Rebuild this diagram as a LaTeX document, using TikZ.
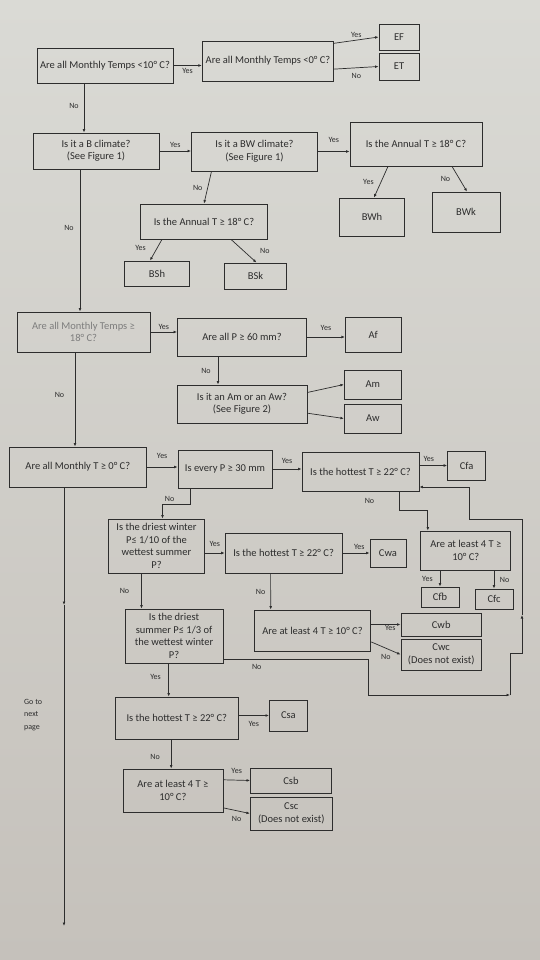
\documentclass[tikz,border=0pt]{standalone}
\usepackage{fontspec}
\setmainfont{Carlito}
\usetikzlibrary{arrows.meta}

\definecolor{paper}{RGB}{218,218,213}
\definecolor{paperdark}{RGB}{197,193,187}
\definecolor{ink}{RGB}{45,45,45}
\definecolor{faint}{RGB}{125,125,125}

\tikzset{
  box/.style = {draw=ink, line width=0.8pt, text=ink, inner sep=1pt, align=center,
                font=\fontsize{10.5}{12.5}\selectfont},
  sz/.style 2 args = {minimum width=#1pt, minimum height=#2pt},
  edge/.style = {draw=ink, line width=0.7pt, -{Latex[length=3.5pt,width=2.8pt]}},
  lbl/.style = {text=ink, inner sep=0pt, font=\fontsize{8}{9.6}\selectfont}
}

\begin{document}
\begin{tikzpicture}[x = 1pt, y = -1pt]
    \shade[top color=paper, bottom color=paperdark] (0,0) rectangle (540,960);
    \useasboundingbox (0,0) rectangle (540,960);

    % E climates
    \node[box, sz={136}{35}]   (cold)  at (105,65.5) {Are all Monthly Temps <10° C?};
    \node[box, sz={131.5}{40}] (frost) at (268,61)   {Are all Monthly Temps <0° C?};
    \node[box, sz={40}{26}]    (EF)    at (399,37)   {EF};
    \node[box, sz={40}{27}]    (ET)    at (399,66.5) {ET};

    % B climates
    \node[box, sz={126}{36}]   (dry)    at (96,151)    {Is it a B climate?\\(See Figure 1)};
    \node[box, sz={126}{39}]   (desert) at (254.5,151.5) {Is it a BW climate?\\(See Figure 1)};
    \node[box, sz={132}{44}]   (hotBW)  at (416,144)   {Is the Annual T ≥ 18° C?};
    \node[box, sz={65.5}{38}]  (BWh)    at (372,217)   {BWh};
    \node[box, sz={68}{40}]    (BWk)    at (466,212)   {BWk};
    \node[box, sz={127.5}{35}] (hotBS)  at (204,221.5) {Is the Annual T ≥ 18° C?};
    \node[box, sz={64.7}{25}]  (BSh)    at (157,273.5) {BSh};
    \node[box, sz={62}{26}]    (BSk)    at (255.5,276) {BSk};

    % A climates
    \node[box, sz={133}{40}, text=faint] (tropic) at (83.5,332) {Are all Monthly Temps ≥\\18° C?};
    \node[box, sz={129}{38}] (wet)     at (242,337)     {Are all P ≥ 60 mm?};
    \node[box, sz={56}{35}]  (Af)      at (373.3,334.5) {Af};
    \node[box, sz={130}{38}] (monsoon) at (242,404)     {Is it an Am or an Aw?\\(See Figure 2)};
    \node[box, sz={57}{29}]  (Am)      at (372.8,384.5) {Am};
    \node[box, sz={57}{29}]  (Aw)      at (372.8,418.5) {Aw};

    % C climates
    \node[box, sz={137}{40}]   (mild)   at (77.8,467)    {Are all Monthly T ≥ 0° C?};
    \node[box, sz={94}{38}]    (moist)  at (225,469)     {Is every P ≥ 30 mm};
    \node[box, sz={117}{39}]   (hotF)   at (360.5,471.5) {Is the hottest T ≥ 22° C?};
    \node[box, sz={38}{29}]    (Cfa)    at (466.6,465.5) {Cfa};
    \node[box, sz={90}{39}]    (warmF)  at (465.8,550.5) {Are at least 4 T ≥\\10° C?};
    \node[box, sz={38}{20}]    (Cfb)    at (440,597)     {Cfb};
    \node[box, sz={38}{20}]    (Cfc)    at (494,599)     {Cfc};
    \node[box, sz={96}{54}]    (drywin) at (156.5,546)   {Is the driest winter\\P≤ 1/10 of the\\wettest summer\\P?};
    \node[box, sz={117}{40}]   (hotW)   at (283.6,553)   {Is the hottest T ≥ 22° C?};
    \node[box, sz={36}{28}]    (Cwa)    at (388,553)     {Cwa};
    \node[box, sz={98}{54}]    (drysum) at (174,636)     {Is the driest\\summer P≤ 1/3 of\\the wettest winter\\P?};
    \node[box, sz={116.7}{41}] (warmW)  at (312.5,630.5) {Are at least 4 T ≥ 10° C?};
    \node[box, sz={80.6}{23}]  (Cwb)    at (441.2,624.5) {Cwb};
    \node[box, sz={80.6}{31}]  (Cwc)    at (441.2,654.5) {Cwc\\(Does not exist)};
    \node[box, sz={123}{42}]   (hotS)   at (176.8,718)   {Is the hottest T ≥ 22° C?};
    \node[box, sz={38}{31}]    (Csa)    at (288.4,715.5) {Csa};
    \node[box, sz={100}{43}]   (warmS)  at (172.9,790.5) {Are at least 4 T ≥\\10° C?};
    \node[box, sz={81}{25}]    (Csb)    at (291,780.5)   {Csb};
    \node[box, sz={82}{33}]    (Csc)    at (291.3,813.5) {Csc\\(Does not exist)};

    \node[lbl, align=left, anchor=west, font=\fontsize{8}{12.8}\selectfont] (next) at (24,715) {Go to\\next\\page};

    \coordinate (loopA) at (510,695);
    \coordinate (loopB) at (522,615);
    \coordinate (turn)  at (64,605);
    \coordinate (tail)  at (64,926);

    \draw[edge] (cold.east) -- node[lbl, below=3pt] {Yes} (cold.east -| frost.west);
    \draw[edge] (frost.15) -- node[lbl, above=2.5pt] {Yes} (EF.west);
    \draw[edge] (frost.-7) -- node[lbl, below=5.5pt] {No} (ET.west);
    \draw[edge] ([xshift=-21pt]cold.south) -- node[lbl, left=5pt, pos=0.46] {No} ([xshift=-12pt]dry.north);

    \draw[edge] (dry.east) -- node[lbl, above=3pt] {Yes} (dry.east -| desert.west);
    \draw[edge] (desert.east) -- node[lbl, above=9pt] {Yes} (desert.east -| hotBW.west);
    \draw[edge] ([xshift=-28pt]hotBW.south) -- node[lbl, left=7pt] {Yes} ([xshift=2pt]BWh.north);
    \draw[edge] ([xshift=36pt]hotBW.south) -- node[lbl, left=9pt] {No} ([xshift=1pt]BWk.north);
    \draw[edge] ([xshift=-43pt]desert.south) -- node[lbl, left=5pt] {No} (hotBS.north);
    \draw[edge] ([xshift=-42pt]hotBS.south) -- node[lbl, left=11pt, pos=0.4] {Yes} ([xshift=-7pt]BSh.north);
    \draw[edge] ([xshift=27pt]hotBS.south) -- node[lbl, right=16pt] {No} ([xshift=1pt]BSk.north);
    \draw[edge] ([xshift=-16pt]dry.south) -- node[lbl, left=6pt, pos=0.41] {No} ([xshift=-3.5pt]tropic.north);

    \draw[edge] (tropic.east) -- node[lbl, above=2.5pt] {Yes} (tropic.east -| wet.west);
    \draw[edge] (wet.east) -- node[lbl, above=6.5pt] {Yes} (wet.east -| Af.west);
    \draw[edge] ([xshift=-24pt]wet.south) -- node[lbl, left=7pt] {No} ([xshift=-24pt]monsoon.north);
    \draw[edge] (monsoon.10) -- (Am.west);
    \draw[edge] (monsoon.-8) -- (Aw.west);
    \draw[edge] ([xshift=-8.5pt]tropic.south) -- node[lbl, left=10.5pt, pos=0.45] {No} ([xshift=-2.8pt]mild.north);

    \draw[edge] (mild.east) -- node[lbl, above=8.5pt] {Yes} (mild.east -| moist.west);
    \draw[edge] (moist.east) -- node[lbl, above=5.5pt] {Yes} (moist.east -| hotF.west);
    \draw[edge] (Cfa.west -| hotF.east) -- node[lbl, above=4pt, pos=0.34] {Yes} (Cfa.west);
    \draw[edge] ([xshift=39pt]hotF.south) -- node[lbl, left=25pt] {No} ++(0,19) -| ([xshift=-38pt]warmF.north);
    \draw[edge] (warmF.south -| Cfb.north) -- node[lbl, left=7pt] {Yes} (Cfb.north);
    \draw[edge] (warmF.south -| Cfc.north) -- node[lbl, right=5.5pt] {No} (Cfc.north);
    \draw[edge] ([xshift=-35pt]moist.south) -- ++(0,16) -| node[lbl, above=2.5pt, pos=0.37] {No} ([xshift=6pt]drywin.north);

    \draw[edge] (hotW.west -| drywin.east) -- node[lbl, above=6.5pt] {Yes} (hotW.west);
    \draw[edge] (hotW.east) -- node[lbl, above=3.5pt, pos=0.62] {Yes} (Cwa.west);
    \draw[edge] ([xshift=-15pt]drywin.south) -- node[lbl, left=12pt] {No} ([xshift=-32.5pt]drysum.north);
    \draw[edge] ([xshift=-13pt]hotW.south) -- node[lbl, left=5pt] {No} ([xshift=-41.8pt]warmW.north);
    \draw[edge] (Cwb.west -| warmW.east) -- node[lbl, below=1pt, pos=0.65] {Yes} (Cwb.west);
    \draw[edge] (warmW.-11) -- node[lbl, below=5.5pt] {No} (Cwc.west);

    % back up to the hottest-month test
    \draw[edge] ([yshift=-23pt]drysum.east) -- node[lbl, below=5.5pt, pos=0.23] {No} ++(145,0) |- (loopA);
    \draw[edge] (loopA) -- ++(0,-42) -| (loopB);
    \draw[edge] (loopB) -- ++(0,-96) -- ++(-53,0) |- ([yshift=-15.5pt]hotF.east);

    \draw[edge] ([xshift=-5.3pt]drysum.south) -- node[lbl, left=7.5pt, pos=0.41] {Yes} ([xshift=-8.1pt]hotS.north);
    \draw[edge] (Csa.west -| hotS.east) -- node[lbl, below=6pt] {Yes} (Csa.west);
    \draw[edge] ([xshift=-5.6pt]hotS.south) -- node[lbl, left=11pt, pos=0.6] {No} ([xshift=-1.7pt]warmS.north);
    \draw[edge] (warmS.12) -- node[lbl, above=6.5pt] {Yes} (Csb.west);
    \draw[edge] (warmS.-19) -- node[lbl, below=5.5pt] {No} (Csc.west);

    \draw[edge] ([xshift=-13.8pt]mild.south) -- (turn);   % on to the next page
    \draw[edge] (turn) -- (tail);

\end{tikzpicture}
\end{document}
